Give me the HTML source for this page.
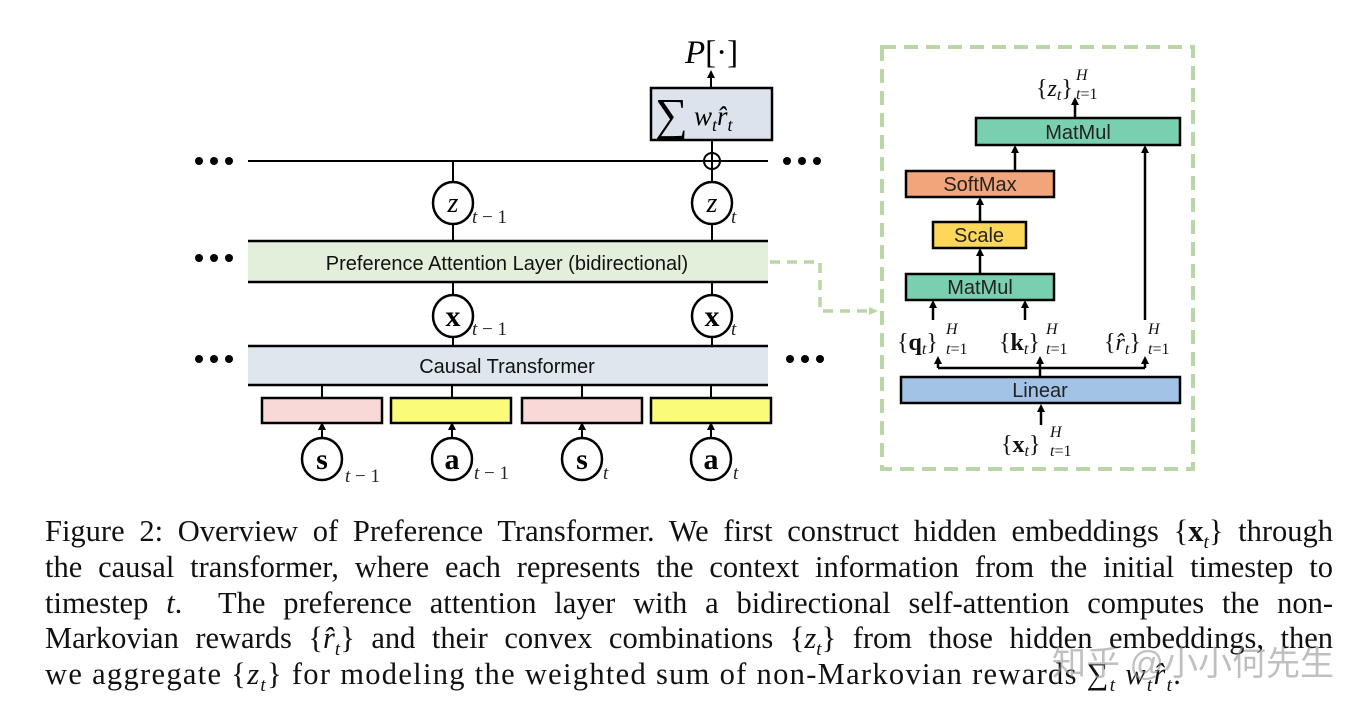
<!DOCTYPE html>
<html><head><meta charset="utf-8"><style>
body{margin:0;background:#fff;width:1362px;height:717px;overflow:hidden;position:relative;font-family:"Liberation Serif",serif}
svg{position:absolute;left:0;top:0}
.cap{position:absolute;left:45px;width:1288px;font-size:30.5px;line-height:36px;color:#111;text-align:justify;text-align-last:justify;white-space:nowrap}
.m{font-style:italic}
sub{font-size:19px;line-height:0}
.wm{position:absolute;left:1052px;top:636px;font-family:"Liberation Sans","Noto Sans CJK SC",sans-serif;font-size:34px;color:rgba(150,150,150,0.6)}
</style></head><body>
<svg width="1362" height="717" viewBox="0 0 1362 717" font-family="Liberation Sans, sans-serif">
<defs><marker id="ar" markerWidth="8" markerHeight="8" refX="4" refY="4" orient="auto" markerUnits="userSpaceOnUse"><path d="M0,0 L8,4 L0,8 z" fill="#000"/></marker>
<marker id="ag" markerWidth="10" markerHeight="10" refX="5" refY="5" orient="auto" markerUnits="userSpaceOnUse"><path d="M0,1 L9,5 L0,9 z" fill="#b9d7a6"/></marker></defs>
<g fill="#000"><circle cx="199" cy="161" r="4"/><circle cx="214" cy="161" r="4"/><circle cx="229" cy="161" r="4"/>
<circle cx="787" cy="161" r="4"/><circle cx="802" cy="161" r="4"/><circle cx="817" cy="161" r="4"/>
<circle cx="199" cy="258" r="4"/><circle cx="214" cy="258" r="4"/><circle cx="229" cy="258" r="4"/>
<circle cx="199" cy="359" r="4"/><circle cx="214" cy="359" r="4"/><circle cx="229" cy="359" r="4"/>
<circle cx="790" cy="359" r="4"/><circle cx="805" cy="359" r="4"/><circle cx="820" cy="359" r="4"/></g>
<g stroke="#000" stroke-width="2" fill="none">
<line x1="248" y1="161" x2="768" y2="161"/>
<line x1="453" y1="161" x2="453" y2="241"/><line x1="712" y1="140" x2="712" y2="241"/>
<line x1="453" y1="282" x2="453" y2="346"/><line x1="712" y1="282" x2="712" y2="346"/>
<line x1="322" y1="385" x2="322" y2="398"/><line x1="452" y1="385" x2="452" y2="398"/><line x1="582" y1="385" x2="582" y2="398"/><line x1="711" y1="385" x2="711" y2="398"/>
<line x1="711" y1="88" x2="711" y2="74" marker-end="url(#ar)"/>
<line x1="322" y1="438" x2="322" y2="426" marker-end="url(#ar)"/><line x1="452" y1="438" x2="452" y2="426" marker-end="url(#ar)"/><line x1="582" y1="438" x2="582" y2="426" marker-end="url(#ar)"/><line x1="711" y1="438" x2="711" y2="426" marker-end="url(#ar)"/>
</g>
<rect x="651" y="88" width="121" height="52" fill="#dde3ec" stroke="#000" stroke-width="2.5"/>
<text x="655" y="130" font-family="Liberation Serif, serif" font-size="46">∑</text>
<text x="694" y="125" font-family="Liberation Serif, serif" font-style="italic" font-size="27">w<tspan font-size="18" dy="6">t</tspan><tspan dy="-6">r̂</tspan><tspan font-size="18" dy="6">t</tspan></text>
<text x="685" y="63" font-family="Liberation Serif, serif" font-size="33"><tspan font-style="italic">P</tspan>[·]</text>
<circle cx="712" cy="161" r="8" fill="#fff" stroke="#000" stroke-width="2"/>
<line x1="704" y1="161" x2="720" y2="161" stroke="#000" stroke-width="2"/><line x1="712" y1="153" x2="712" y2="169" stroke="#000" stroke-width="2"/>
<rect x="248" y="241" width="520" height="41" fill="#e3eedb"/>
<line x1="248" y1="241" x2="768" y2="241" stroke="#000" stroke-width="2.5"/><line x1="248" y1="282" x2="768" y2="282" stroke="#000" stroke-width="2.5"/>
<text x="507" y="270" font-size="20" text-anchor="middle" fill="#111">Preference Attention Layer (bidirectional)</text>
<rect x="248" y="346" width="520" height="39" fill="#dee6ee"/>
<line x1="248" y1="346" x2="768" y2="346" stroke="#000" stroke-width="2.5"/><line x1="248" y1="385" x2="768" y2="385" stroke="#000" stroke-width="2.5"/>
<text x="507" y="373" font-size="20" text-anchor="middle" fill="#111">Causal Transformer</text>
<g stroke="#000" stroke-width="2.5"><rect x="262" y="398" width="120" height="25" fill="#f8d9d7"/><rect x="391" y="398" width="120" height="25" fill="#fbfb7a"/><rect x="522" y="398" width="120" height="25" fill="#f8d9d7"/><rect x="651" y="398" width="120" height="25" fill="#fbfb7a"/></g>
<g stroke="#000" stroke-width="2.5" fill="#fff">
<ellipse cx="453" cy="203" rx="20" ry="21"/><ellipse cx="712" cy="203" rx="20" ry="21"/>
<ellipse cx="453" cy="316" rx="20" ry="21"/><ellipse cx="712" cy="316" rx="20" ry="21"/>
<ellipse cx="322" cy="459" rx="20" ry="21"/><ellipse cx="452" cy="459" rx="20" ry="21"/><ellipse cx="582" cy="459" rx="20" ry="21"/><ellipse cx="711" cy="459" rx="20" ry="21"/></g>
<g font-family="Liberation Serif, serif" text-anchor="middle">
<text x="453" y="212" font-size="28" font-style="italic">z</text><text x="712" y="212" font-size="28" font-style="italic">z</text>
<text x="453" y="326" font-size="30" font-weight="bold">x</text><text x="712" y="326" font-size="30" font-weight="bold">x</text>
<text x="322" y="469" font-size="30" font-weight="bold">s</text><text x="452" y="469" font-size="30" font-weight="bold">a</text><text x="582" y="469" font-size="30" font-weight="bold">s</text><text x="711" y="469" font-size="30" font-weight="bold">a</text>
</g>
<g font-family="Liberation Serif, serif" font-size="19" fill="#222">
<text x="472" y="223"><tspan font-style="italic">t</tspan> − 1</text><text x="731" y="223" font-style="italic">t</text>
<text x="472" y="335"><tspan font-style="italic">t</tspan> − 1</text><text x="731" y="335" font-style="italic">t</text>
<text x="345" y="482"><tspan font-style="italic">t</tspan> − 1</text><text x="474" y="479"><tspan font-style="italic">t</tspan> − 1</text><text x="603" y="479" font-style="italic">t</text><text x="733" y="479" font-style="italic">t</text>
</g>
<path d="M770,262 H820 V311 H874" fill="none" stroke="#b9d7a6" stroke-width="3.5" stroke-dasharray="10,7" marker-end="url(#ag)"/>
<rect x="882" y="47" width="311" height="422" fill="none" stroke="#b9d7a6" stroke-width="4" stroke-dasharray="14,8"/>
<g stroke="#000" stroke-width="2.5">
<rect x="976" y="118" width="204" height="27" fill="#79d0b0"/>
<rect x="906" y="171" width="148" height="26" fill="#f2a57a"/>
<rect x="933" y="222" width="93" height="26" fill="#fcd75a"/>
<rect x="906" y="274" width="148" height="26" fill="#79d0b0"/>
<rect x="901" y="377" width="279" height="26" fill="#a3c3e6"/></g>
<g font-size="20" text-anchor="middle" fill="#222">
<text x="1078" y="139">MatMul</text><text x="980" y="191">SoftMax</text><text x="979" y="242">Scale</text><text x="980" y="294">MatMul</text><text x="1040" y="397">Linear</text></g>
<g stroke="#000" stroke-width="2.5" fill="none">
<line x1="1015" y1="171" x2="1015" y2="149" marker-end="url(#ar)"/>
<line x1="980" y1="222" x2="980" y2="201" marker-end="url(#ar)"/>
<line x1="980" y1="274" x2="980" y2="252" marker-end="url(#ar)"/>
<line x1="1075" y1="118" x2="1075" y2="101" marker-end="url(#ar)"/>
<line x1="1145" y1="320" x2="1145" y2="149" marker-end="url(#ar)"/>
<line x1="933" y1="320" x2="933" y2="304" marker-end="url(#ar)"/>
<line x1="1025" y1="320" x2="1025" y2="304" marker-end="url(#ar)"/>
<line x1="1040" y1="377" x2="1040" y2="368"/>
<line x1="938" y1="368" x2="1145" y2="368"/>
<line x1="938" y1="368" x2="938" y2="360" marker-end="url(#ar)"/>
<line x1="1040" y1="368" x2="1040" y2="360" marker-end="url(#ar)"/>
<line x1="1145" y1="368" x2="1145" y2="360" marker-end="url(#ar)"/>
<line x1="1041" y1="425" x2="1041" y2="408" marker-end="url(#ar)"/>
</g>
<g font-family="Liberation Serif, serif" font-size="24" fill="#111">
<text x="1036" y="96">{<tspan font-style="italic">z</tspan><tspan font-size="16" font-style="italic" dy="4">t</tspan><tspan dy="-4">}</tspan></text>
<text x="1076" y="80" font-size="16" font-style="italic">H</text><text x="1076" y="99" font-size="16"><tspan font-style="italic">t</tspan>=1</text>
<text x="897" y="350">{<tspan font-weight="bold">q</tspan><tspan font-size="16" font-style="italic" dy="4">t</tspan><tspan dy="-4">}</tspan></text>
<text x="946" y="334" font-size="16" font-style="italic">H</text><text x="946" y="354" font-size="16"><tspan font-style="italic">t</tspan>=1</text>
<text x="999" y="350">{<tspan font-weight="bold">k</tspan><tspan font-size="16" font-style="italic" dy="4">t</tspan><tspan dy="-4">}</tspan></text>
<text x="1046" y="334" font-size="16" font-style="italic">H</text><text x="1046" y="354" font-size="16"><tspan font-style="italic">t</tspan>=1</text>
<text x="1104" y="350">{<tspan font-style="italic">r̂</tspan><tspan font-size="16" font-style="italic" dy="4">t</tspan><tspan dy="-4">}</tspan></text>
<text x="1148" y="334" font-size="16" font-style="italic">H</text><text x="1148" y="354" font-size="16"><tspan font-style="italic">t</tspan>=1</text>
<text x="1001" y="452">{<tspan font-weight="bold">x</tspan><tspan font-size="16" font-style="italic" dy="4">t</tspan><tspan dy="-4">}</tspan></text>
<text x="1050" y="437" font-size="16" font-style="italic">H</text><text x="1050" y="456" font-size="16"><tspan font-style="italic">t</tspan>=1</text>
</g>
</svg>
<div class="cap" style="top:513px">Figure 2: Overview of Preference Transformer. We first construct hidden embeddings {<b>x</b><sub class="m">t</sub>} through</div>
<div class="cap" style="top:549px">the causal transformer, where each represents the context information from the initial timestep to</div>
<div class="cap" style="top:585px">timestep <span class="m">t</span>. &nbsp;The preference attention layer with a bidirectional self-attention computes the non-</div>
<div class="cap" style="top:620px">Markovian rewards {<span class="m">r̂</span><sub class="m">t</sub>} and their convex combinations {<span class="m">z</span><sub class="m">t</sub>} from those hidden embeddings, then</div>
<div class="cap" style="top:656px;text-align-last:left;width:auto;letter-spacing:1.3px">we aggregate {<span class="m">z</span><sub class="m">t</sub>} for modeling the weighted sum of non-Markovian rewards ∑<sub class="m">t</sub> <span class="m">w<sub>t</sub>r̂<sub>t</sub></span>.</div>
<div class="wm">知乎 @小小何先生</div>
</body></html>
